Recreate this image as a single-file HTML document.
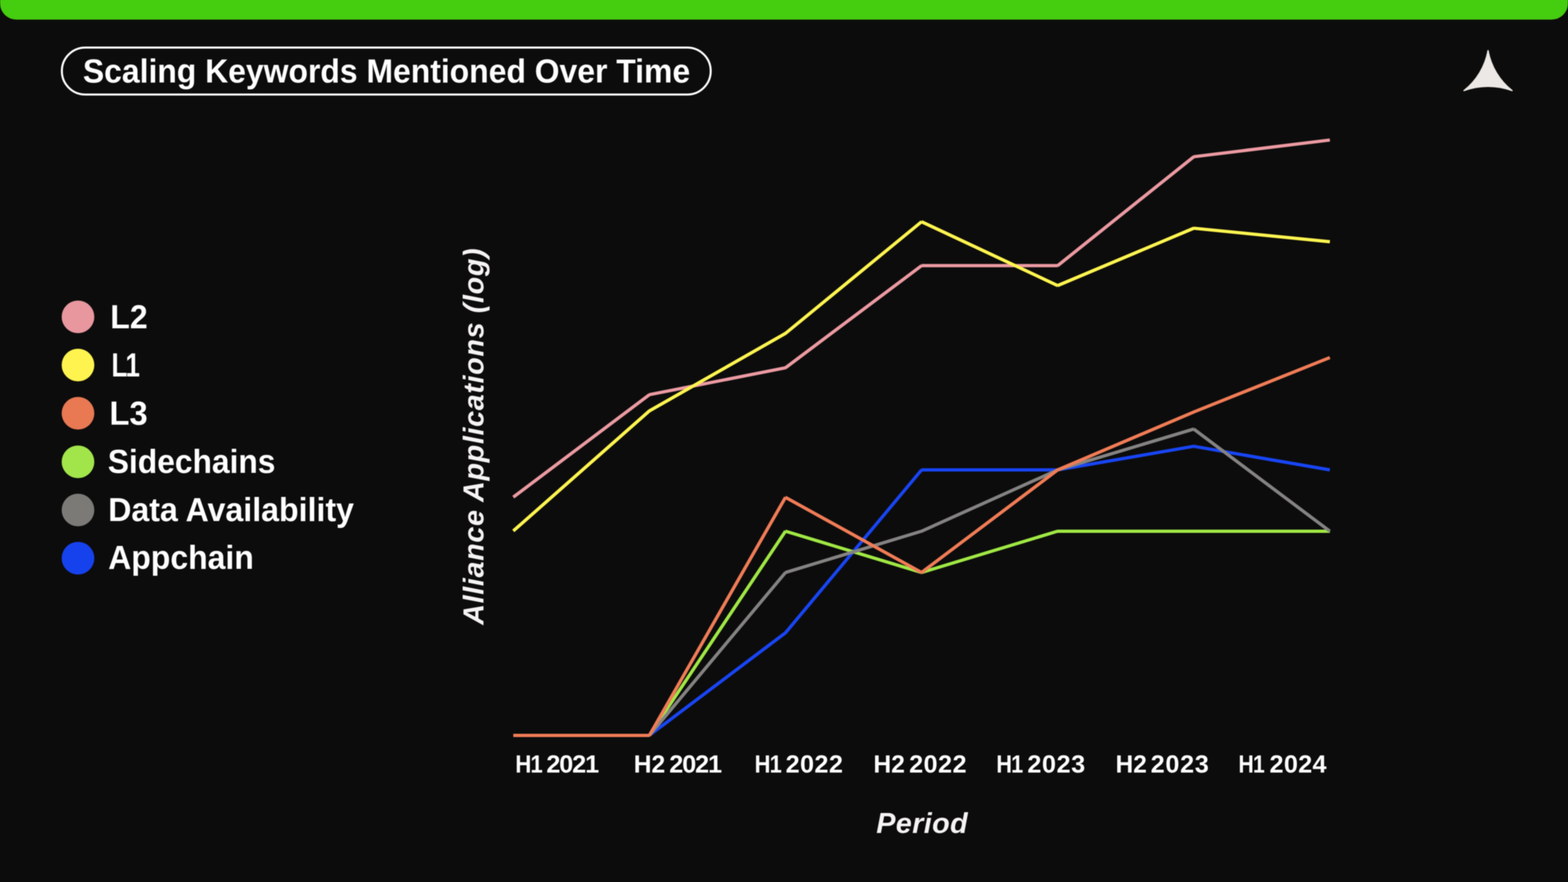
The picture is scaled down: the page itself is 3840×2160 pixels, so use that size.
<!DOCTYPE html>
<html lang="en">
<head>
<meta charset="utf-8">
<title>Scaling Keywords Mentioned Over Time</title>
<style>
html,body{margin:0;padding:0;}
body{width:3840px;height:2160px;background:#0c0c0c;overflow:hidden;position:relative;
 font-family:"Liberation Sans",Arial,Helvetica,sans-serif;color:#fff;font-weight:700;}
.slide{position:absolute;left:0;top:0;width:3840px;height:2160px;background:#0c0c0c;filter:blur(1.0px);}
.topbar{position:absolute;left:0;top:-40px;width:3840px;height:88px;background:#45cd10;border-radius:0 0 40px 40px;}
.t{position:absolute;white-space:nowrap;line-height:1;transform-origin:0 0;margin:0;font-weight:700;}
.pill{position:absolute;box-sizing:border-box;border:5px solid #fff;border-radius:70px;}
.dot{position:absolute;width:80px;height:80px;border-radius:50%;}
svg{position:absolute;left:0;top:0;}
.ax{color:#f5f3f3;font-style:italic;}
</style>
</head>
<body>
<div class="slide">
<div class="topbar"></div>
<div class="pill" style="left:148.9px;top:113.8px;width:1594.1px;height:120.2px;"></div>
<h1 class="t title" style="left:202.53px;top:132.99px;font-size:81.98px;transform:scaleX(0.9528);">Scaling Keywords Mentioned Over Time</h1>
<svg class="logo" width="3840" height="2160" viewBox="0 0 3840 2160" aria-label="Alliance logo">
<path d="M3644.2 123.8A161.3 161.3 0 0 0 3703.2 221.9A171.0 171.0 0 0 0 3585.2 221.9A161.3 161.3 0 0 0 3644.2 123.8Z" fill="#ece8e5" stroke="#ece8e5" stroke-width="3" stroke-linejoin="round"/>
</svg>
<div class="legend">
<span class="dot" style="left:150.8px;top:736.2px;background:#e8979f;"></span><span class="t lg" style="left:269.57px;top:734.99px;font-size:81.98px;transform:scaleX(0.9575);">L2</span>
<span class="dot" style="left:150.8px;top:854.4px;background:#fff44f;"></span><span class="t lg" style="left:272.71px;top:852.99px;font-size:81.98px;letter-spacing:-6.000px;transform:scaleX(0.7772);">L1</span>
<span class="dot" style="left:150.8px;top:972.4px;background:#e87953;"></span><span class="t lg" style="left:268.24px;top:970.99px;font-size:81.98px;transform:scaleX(0.9782);">L3</span>
<span class="dot" style="left:150.8px;top:1090.6px;background:#a2e54b;"></span><span class="t lg" style="left:264.16px;top:1088.99px;font-size:81.98px;transform:scaleX(0.9485);">Sidechains</span>
<span class="dot" style="left:150.8px;top:1208.8px;background:#7b7a77;"></span><span class="t lg" style="left:265.11px;top:1206.99px;font-size:81.98px;transform:scaleX(0.9597);">Data Availability</span>
<span class="dot" style="left:150.8px;top:1326.8px;background:#1642ee;"></span><span class="t lg" style="left:265.02px;top:1323.99px;font-size:81.98px;transform:scaleX(0.9549);">Appchain</span>
</div>
<svg class="chart" width="3840" height="2160" viewBox="0 0 3840 2160" fill="none" stroke-linecap="butt">
<g stroke="#1845f4"><title>Appchain</title><line x1="1257.00" y1="1800.90" x2="1590.70" y2="1800.90" stroke-width="8.00"/><line x1="1589.98" y1="1801.14" x2="1923.92" y2="1549.56" stroke-width="8.00"/><line x1="1923.34" y1="1550.11" x2="2257.16" y2="1150.49" stroke-width="8.00"/><line x1="2256.50" y1="1150.80" x2="2590.60" y2="1150.80" stroke-width="8.00"/><line x1="2589.81" y1="1150.87" x2="2923.89" y2="1092.93" stroke-width="8.00"/><line x1="2923.11" y1="1092.93" x2="3256.80" y2="1150.80" stroke-width="8.00"/></g>
<g stroke="#a0e844"><title>Sidechains</title><line x1="1257.00" y1="1800.90" x2="1590.70" y2="1800.90" stroke-width="8.00"/><line x1="1590.08" y1="1801.23" x2="1923.82" y2="1300.57" stroke-width="8.00"/><line x1="1923.22" y1="1300.78" x2="2257.28" y2="1402.12" stroke-width="8.00"/><line x1="2256.52" y1="1402.12" x2="2590.58" y2="1300.78" stroke-width="8.00"/><line x1="2589.80" y1="1300.90" x2="2923.90" y2="1300.90" stroke-width="8.00"/><line x1="2923.10" y1="1300.90" x2="3256.80" y2="1300.90" stroke-width="8.00"/></g>
<g stroke="#848382"><title>Data Availability</title><line x1="1257.00" y1="1800.90" x2="1590.70" y2="1800.90" stroke-width="8.00"/><line x1="1590.04" y1="1801.21" x2="1923.86" y2="1401.69" stroke-width="8.00"/><line x1="1923.22" y1="1402.12" x2="2257.28" y2="1300.78" stroke-width="8.00"/><line x1="2256.54" y1="1301.06" x2="2590.57" y2="1150.64" stroke-width="8.00"/><line x1="2589.82" y1="1150.92" x2="2923.88" y2="1050.58" stroke-width="8.00"/><line x1="2923.18" y1="1050.46" x2="3256.80" y2="1300.90" stroke-width="8.00"/></g>
<g stroke="#f07c56"><title>L3</title><line x1="1257.00" y1="1800.90" x2="1590.70" y2="1800.90" stroke-width="8.00"/><line x1="1590.10" y1="1801.25" x2="1923.80" y2="1217.65" stroke-width="8.00"/><line x1="1923.25" y1="1217.81" x2="2257.25" y2="1402.19" stroke-width="8.00"/><line x1="2256.58" y1="1402.24" x2="2590.52" y2="1150.56" stroke-width="8.00"/><line x1="2589.83" y1="1150.96" x2="2923.87" y2="1008.84" stroke-width="8.00"/><line x1="2923.13" y1="1009.15" x2="3256.80" y2="875.60" stroke-width="8.00"/></g>
<g stroke="#ec9aa2"><title>L2</title><line x1="1257.00" y1="1217.50" x2="1590.62" y2="966.36" stroke-width="8.00"/><line x1="1589.91" y1="966.68" x2="1923.99" y2="900.62" stroke-width="8.00"/><line x1="1923.28" y1="900.94" x2="2257.22" y2="650.36" stroke-width="8.00"/><line x1="2256.50" y1="650.60" x2="2590.60" y2="650.60" stroke-width="8.00"/><line x1="2589.89" y1="650.85" x2="2923.81" y2="383.55" stroke-width="8.00"/><line x1="2923.10" y1="383.85" x2="3256.80" y2="342.90" stroke-width="8.00"/></g>
<g stroke="#fff550"><title>L1</title><line x1="1257.00" y1="1300.30" x2="1590.60" y2="1006.04" stroke-width="8.00"/><line x1="1589.95" y1="1006.50" x2="1923.95" y2="816.30" stroke-width="8.00"/><line x1="1923.29" y1="816.75" x2="2257.21" y2="542.75" stroke-width="8.00"/><line x1="2256.54" y1="542.83" x2="2590.56" y2="699.57" stroke-width="8.00"/><line x1="2589.83" y1="699.56" x2="2923.87" y2="558.74" stroke-width="8.00"/><line x1="2923.10" y1="558.86" x2="3256.80" y2="591.90" stroke-width="8.00"/></g>
</svg>
<div class="xaxis">
<span class="tick"><span class="t xl" style="left:1261.89px;top:1839.77px;font-size:61.77px;letter-spacing:-2.500px;transform:scaleX(0.8810);">H1</span> <span class="t xl" style="left:1337.92px;top:1839.77px;font-size:61.77px;letter-spacing:-2.684px;">2021</span></span>
<span class="tick"><span class="t xl" style="left:1552.40px;top:1839.77px;font-size:61.77px;transform:scaleX(0.9770);">H2</span> <span class="t xl" style="left:1638.92px;top:1839.77px;font-size:61.77px;letter-spacing:-2.617px;">2021</span></span>
<span class="tick"><span class="t xl" style="left:1848.21px;top:1839.77px;font-size:61.77px;letter-spacing:-2.500px;transform:scaleX(0.8710);">H1</span> <span class="t xl" style="left:1924.00px;top:1839.77px;font-size:61.77px;letter-spacing:0.956px;">2022</span></span>
<span class="tick"><span class="t xl" style="left:2139.40px;top:1839.77px;font-size:61.77px;transform:scaleX(0.9751);">H2</span> <span class="t xl" style="left:2226.40px;top:1839.77px;font-size:61.77px;letter-spacing:1.106px;">2022</span></span>
<span class="tick"><span class="t xl" style="left:2440.33px;top:1839.77px;font-size:61.77px;letter-spacing:-2.500px;transform:scaleX(0.8597);">H1</span> <span class="t xl" style="left:2516.00px;top:1839.77px;font-size:61.77px;letter-spacing:1.413px;">2023</span></span>
<span class="tick"><span class="t xl" style="left:2731.60px;top:1839.77px;font-size:61.77px;transform:scaleX(0.9691);">H2</span> <span class="t xl" style="left:2817.92px;top:1839.77px;font-size:61.77px;letter-spacing:1.665px;">2023</span></span>
<span class="tick"><span class="t xl" style="left:3033.17px;top:1839.77px;font-size:61.77px;letter-spacing:-2.500px;transform:scaleX(0.8409);">H1</span> <span class="t xl" style="left:3109.04px;top:1839.77px;font-size:61.77px;letter-spacing:0.763px;">2024</span></span>
</div>
<div class="t ax" style="left:2145.93px;top:1981.49px;font-size:70.50px;letter-spacing:0.881px;">Period</div>
<div class="t ax" style="left:1124.78px;top:1529.76px;font-size:70.50px;letter-spacing:1.502px;transform:rotate(-90deg);">Alliance Applications (log)</div>
</div>
</body>
</html>
